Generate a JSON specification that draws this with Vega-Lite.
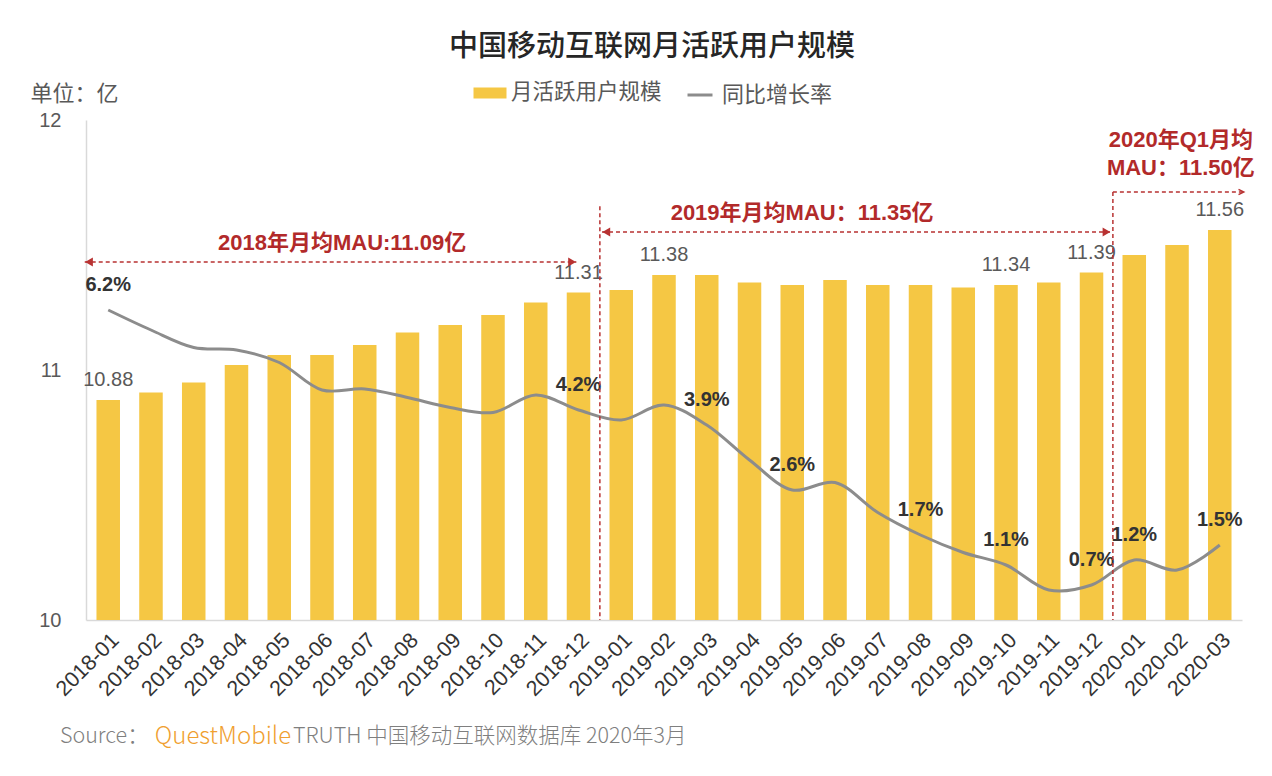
{
  "$schema": "https://vega.github.io/schema/vega-lite/v6.json",
  "autosize": {"type": "none"},
  "padding": {"left": 86, "top": 120, "right": 30, "bottom": 156},
  "width": 1156,
  "height": 500,
  "background": "white",
  "config": {
    "view": {"stroke": null},
    "font": "Liberation Sans, Noto Sans CJK SC",
    "legend": {"padding": 0}
  },
  "title": {
    "text": "中国移动互联网月活跃用户规模",
    "font": "Noto Sans CJK SC",
    "fontSize": 29,
    "fontWeight": 500,
    "color": "#262626",
    "anchor": "middle",
    "dx": -12,
    "offset": 19
  },
  "datasets": {
    "main": [
      {"month": "2018-01", "mau": 10.88, "growth": 0.062},
      {"month": "2018-02", "mau": 10.91, "growth": 0.058},
      {"month": "2018-03", "mau": 10.95, "growth": 0.0545},
      {"month": "2018-04", "mau": 11.02, "growth": 0.054},
      {"month": "2018-05", "mau": 11.06, "growth": 0.0515},
      {"month": "2018-06", "mau": 11.06, "growth": 0.046},
      {"month": "2018-07", "mau": 11.10, "growth": 0.0462},
      {"month": "2018-08", "mau": 11.15, "growth": 0.0445},
      {"month": "2018-09", "mau": 11.18, "growth": 0.0425},
      {"month": "2018-10", "mau": 11.22, "growth": 0.0415},
      {"month": "2018-11", "mau": 11.27, "growth": 0.045},
      {"month": "2018-12", "mau": 11.31, "growth": 0.042},
      {"month": "2019-01", "mau": 11.32, "growth": 0.040},
      {"month": "2019-02", "mau": 11.38, "growth": 0.043},
      {"month": "2019-03", "mau": 11.38, "growth": 0.039},
      {"month": "2019-04", "mau": 11.35, "growth": 0.032},
      {"month": "2019-05", "mau": 11.34, "growth": 0.026},
      {"month": "2019-06", "mau": 11.36, "growth": 0.0275},
      {"month": "2019-07", "mau": 11.34, "growth": 0.0215},
      {"month": "2019-08", "mau": 11.34, "growth": 0.017},
      {"month": "2019-09", "mau": 11.33, "growth": 0.0135},
      {"month": "2019-10", "mau": 11.34, "growth": 0.011},
      {"month": "2019-11", "mau": 11.35, "growth": 0.006},
      {"month": "2019-12", "mau": 11.39, "growth": 0.007},
      {"month": "2020-01", "mau": 11.46, "growth": 0.012},
      {"month": "2020-02", "mau": 11.50, "growth": 0.010},
      {"month": "2020-03", "mau": 11.56, "growth": 0.015}
    ],
    "hlines": [
      {"x": -0.55, "x2": 10.95, "y": 11.432},
      {"x": 11.55, "x2": 23.45, "y": 11.552},
      {"x": 23.5, "x2": 26.6, "y": 11.712}
    ],
    "vlines": [
      {"x": 11.5, "y": 11.655},
      {"x": 23.5, "y": 11.712}
    ],
    "heads": [
      {"x": -0.45, "y": 11.432, "dir": "left"},
      {"x": 10.85, "y": 11.432, "dir": "right"},
      {"x": 11.65, "y": 11.552, "dir": "left"},
      {"x": 23.35, "y": 11.552, "dir": "right"}
    ],
    "openhead": [
      {"x": 26.5, "y": 11.712}
    ],
    "notes": [
      {"x": 5.47, "y": 11.508, "text": "2018年月均MAU:11.09亿"},
      {"x": 16.23, "y": 11.628, "text": "2019年月均MAU：11.35亿"},
      {"x": 25.09, "y": 11.92, "text": "2020年Q1月均"},
      {"x": 25.09, "y": 11.808, "text": "MAU：11.50亿"}
    ],
    "footer": [
      {"x": -1.13, "y": 9.532, "text": "Source：", "kind": "plain"},
      {"x": 4.32, "y": 9.532, "text": "TRUTH 中国移动互联网数据库 2020年3月", "kind": "plain"}
    ],
    "brand": [
      {"x": 1.09, "y": 9.532, "text": "QuestMobile"}
    ]
  },
  "layer": [
    {
      "data": {"name": "main"},
      "layer": [
        {
          "mark": {"type": "bar", "color": "#F5C744"},
          "encoding": {
            "x": {
              "field": "month", "type": "nominal", "sort": null,
              "scale": {"type": "band", "paddingInner": 0.45, "paddingOuter": 0.245},
              "axis": {
                "title": null, "labelAngle": -45, "labelFontSize": 21.5,
                "labelColor": "#333333", "labelFont": "Liberation Sans",
                "ticks": false, "domainColor": "#d9d9d9", "domainWidth": 1.5,
                "labelPadding": 9
              }
            },
            "y": {
              "field": "mau", "type": "quantitative",
              "scale": {"domain": [10, 12], "zero": false, "nice": false},
              "axis": {
                "values": [10, 11, 12], "labelExpr": "datum.value == 11 ? '11' : datum.value == 12 ? '12' : '10'",
                "grid": false, "ticks": false,
                "labelOverlap": false, "labelFlush": false, "labelBound": false,
                "domainColor": "#d9d9d9", "domainWidth": 1.5,
                "labelFontSize": 20, "labelColor": "#595959", "labelPadding": 25,
                "labelFont": "Liberation Sans",
                "title": "单位：亿", "titleAngle": 0, "titleFont": "Noto Sans CJK SC",
                "titleFontSize": 22, "titleFontWeight": "normal", "titleColor": "#595959",
                "titleAlign": "left", "titleBaseline": "middle", "titleX": -56, "titleY": -27
              }
            },
            "y2": {"datum": 10},
            "color": {
              "datum": "月活跃用户规模",
              "scale": {"range": ["#F5C744"]},
              "legend": {
                "orient": "none", "legendX": 392, "legendY": -39, "title": null,
                "symbolType": "M-1.5,-0.5H1.5V0.5H-1.5Z", "symbolSize": 484,
                "labelFontSize": 21.5, "labelColor": "#595959", "labelFont": "Noto Sans CJK SC",
                "labelOffset": 9
              }
            }
          }
        },
        {
          "transform": [{"filter": {"field": "month", "oneOf": ["2018-01", "2018-12", "2019-02", "2019-10", "2019-12", "2020-03"]}}],
          "mark": {"type": "text", "fontSize": 20, "color": "#595959", "baseline": "middle", "dy": -20, "font": "Liberation Sans"},
          "encoding": {
            "x": {"field": "month", "type": "nominal", "sort": null},
            "y": {"field": "mau", "type": "quantitative", "scale": {"domain": [10, 12], "zero": false, "nice": false}, "axis": null},
            "text": {"field": "mau", "type": "quantitative", "format": ".2f"}
          }
        },
        {
          "mark": {"type": "line", "interpolate": "catmull-rom", "strokeWidth": 3},
          "encoding": {
            "x": {"field": "month", "type": "nominal", "sort": null},
            "y": {"field": "growth", "type": "quantitative", "scale": {"domain": [0, 0.1], "nice": false}, "axis": null},
            "stroke": {
              "datum": "同比增长率",
              "scale": {"range": ["#8C8C8C"]},
              "legend": {
                "orient": "none", "legendX": 600, "legendY": -39, "title": null,
                "symbolType": "stroke", "symbolStrokeWidth": 3, "symbolSize": 625,
                "labelFontSize": 22, "labelColor": "#595959", "labelFont": "Noto Sans CJK SC",
                "labelOffset": 8
              }
            }
          }
        },
        {
          "transform": [{"filter": {"field": "month", "oneOf": ["2018-01", "2018-12", "2019-03", "2019-05", "2019-08", "2019-10", "2019-12", "2020-01", "2020-03"]}}],
          "mark": {"type": "text", "fontSize": 20, "fontWeight": "bold", "color": "#333333", "baseline": "middle", "dy": -25, "font": "Liberation Sans"},
          "encoding": {
            "x": {"field": "month", "type": "nominal", "sort": null},
            "y": {"field": "growth", "type": "quantitative", "scale": {"domain": [0, 0.1], "nice": false}, "axis": null},
            "text": {"field": "growth", "type": "quantitative", "format": ".1%"}
          }
        }
      ],
      "resolve": {"scale": {"y": "independent"}}
    },
    {
      "layer": [
        {
          "data": {"name": "hlines"},
          "mark": {"type": "rule", "color": "#B83232", "strokeDash": [4, 3], "strokeWidth": 1.5},
          "encoding": {
            "x": {"field": "x", "type": "quantitative", "scale": {"domain": [-0.52, 26.52], "nice": false, "zero": false}, "axis": null},
            "x2": {"field": "x2"},
            "y": {"field": "y", "type": "quantitative", "scale": {"domain": [10, 12], "nice": false, "zero": false}, "axis": null}
          }
        },
        {
          "data": {"name": "vlines"},
          "mark": {"type": "rule", "color": "#B83232", "strokeDash": [4, 3], "strokeWidth": 1.5},
          "encoding": {
            "x": {"field": "x", "type": "quantitative"},
            "y": {"field": "y", "type": "quantitative"},
            "y2": {"datum": 10}
          }
        },
        {
          "data": {"name": "heads"},
          "mark": {"type": "point", "filled": true, "color": "#B83232", "size": 80, "opacity": 1},
          "encoding": {
            "x": {"field": "x", "type": "quantitative"},
            "y": {"field": "y", "type": "quantitative"},
            "shape": {"field": "dir", "type": "nominal", "scale": {"domain": ["left", "right"], "range": ["triangle-left", "triangle-right"]}, "legend": null}
          }
        },
        {
          "data": {"name": "openhead"},
          "mark": {"type": "point", "filled": false, "color": "#B83232", "strokeWidth": 1.5, "size": 110, "opacity": 1, "shape": "M-0.5,-0.5L0.5,0L-0.5,0.5"},
          "encoding": {
            "x": {"field": "x", "type": "quantitative"},
            "y": {"field": "y", "type": "quantitative"}
          }
        },
        {
          "data": {"name": "notes"},
          "mark": {"type": "text", "fontSize": 22, "fontWeight": "bold", "color": "#B22A2A", "baseline": "middle", "align": "center", "font": "Liberation Sans, Noto Sans CJK SC"},
          "encoding": {
            "x": {"field": "x", "type": "quantitative"},
            "y": {"field": "y", "type": "quantitative"},
            "text": {"field": "text"}
          }
        },
        {
          "data": {"name": "footer"},
          "mark": {"type": "text", "fontSize": 21.5, "baseline": "middle", "align": "left", "font": "Noto Sans CJK SC", "fontWeight": 300, "color": "#7F7F7F"},
          "encoding": {
            "x": {"field": "x", "type": "quantitative"},
            "y": {"field": "y", "type": "quantitative"},
            "text": {"field": "text"}
          }
        },
        {
          "data": {"name": "brand"},
          "mark": {"type": "text", "fontSize": 24, "baseline": "middle", "align": "left", "font": "Noto Sans CJK SC", "fontWeight": 300, "color": "#F0A030", "letterSpacing": -0.5},
          "encoding": {
            "x": {"field": "x", "type": "quantitative"},
            "y": {"field": "y", "type": "quantitative"},
            "text": {"field": "text"}
          }
        }
      ]
    }
  ],
  "resolve": {"scale": {"x": "independent", "y": "independent"}}
}
